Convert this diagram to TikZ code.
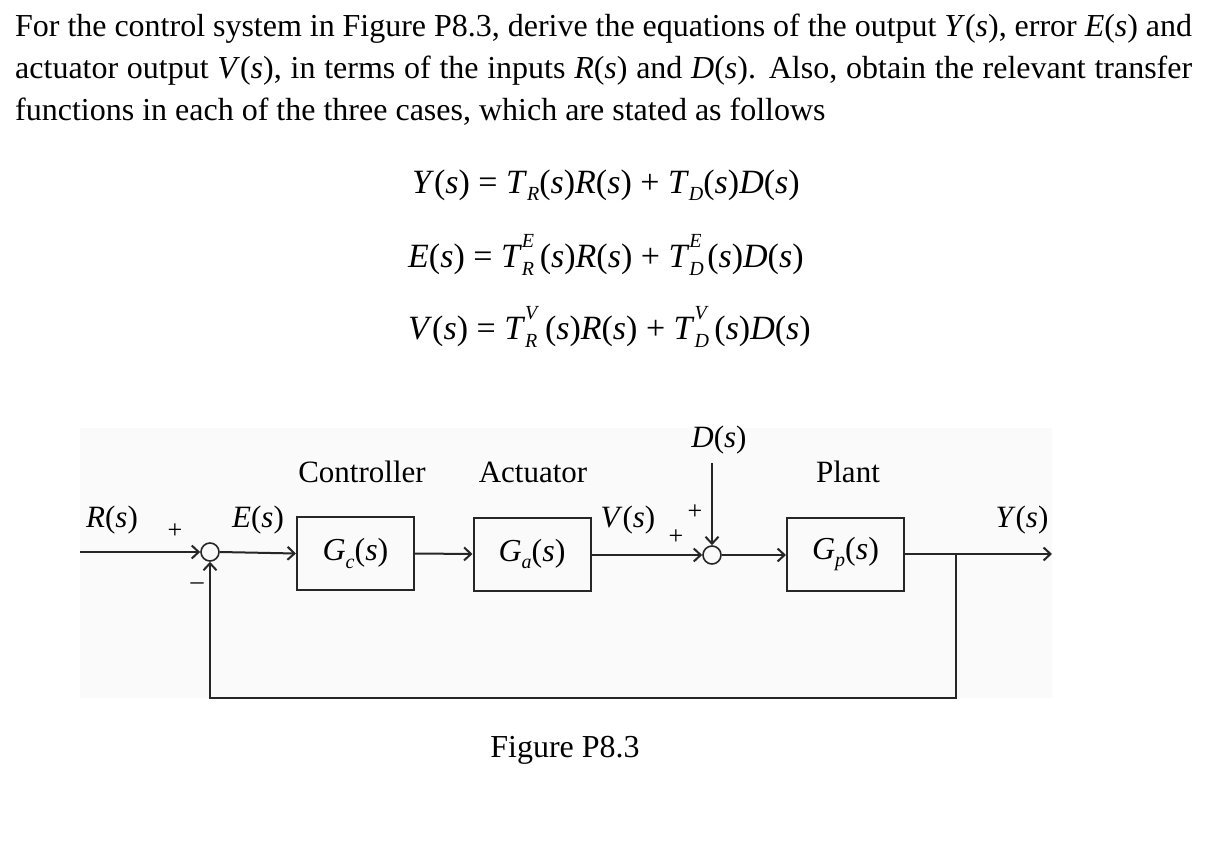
\documentclass[tikz,border=0pt]{standalone}
\usepackage{fontspec}
\setmainfont{Liberation Serif}
\usetikzlibrary{arrows.meta}
\newcommand{\sm}[1]{{\fontsize{20}{20}\selectfont\textit{#1}}}
\newcommand{\lo}[1]{\raisebox{-0.22em}{\sm{#1}}}
\newcommand{\TT}[2]{\textit{T}\rlap{\lo{#1}}\raisebox{0.6em}{\sm{#2}}\,}
\newcommand{\fn}[1]{\textit{#1}(\textit{s})}
\tikzset{
  blk/.style={draw=black!85,line width=2pt,minimum width=117pt,minimum height=73pt,inner sep=0pt,font=\fontsize{32}{34}\selectfont},
  sumj/.style={draw=black!85,line width=1.6pt,circle,minimum size=18pt,inner sep=0pt},
  sig/.style={draw=black!85,line width=2pt},
  arr/.style={sig,-{Straight Barb[length=7pt,width=13pt,line width=2pt]}},
  lbl/.style={font=\fontsize{31}{33}\selectfont,inner sep=0pt},
  pm/.style={font=\fontsize{26}{28}\selectfont,inner sep=0pt},
  eqn/.style={anchor=west,inner sep=0pt,font=\fontsize{34}{37}\selectfont}
}
\begin{document}
\begin{tikzpicture}[x=1pt,y=-1pt]
\useasboundingbox (0,0) rectangle (1227,842);
\fill[black!2] (80,428) rectangle (1052,698);
\node[anchor=north west,inner sep=0pt,text width=1177pt,align=justify,font=\fontsize{32}{42}\selectfont] (txt) at (15,14)
{For the control system in Figure P8.3, derive the equations of the output \textit{Y}(\textit{s}), error \textit{E}(\textit{s}) and actuator output \textit{V}(\textit{s}), in terms of the inputs \textit{R}(\textit{s}) and \textit{D}(\textit{s}). Also, obtain the relevant transfer functions in each of the three cases, which are stated as follows};
\node[eqn] (e1) at (412,185) {\fn{Y} = \textit{T}\lo{R}(\textit{s})\fn{R} + \textit{T}\lo{D}(\textit{s})\fn{D}};
\node[eqn] (e2) at (408,255) {\fn{E} = \TT{R}{E}(\textit{s})\fn{R} + \TT{D}{E}(\textit{s})\fn{D}};
\node[eqn] (e3) at (408,327) {\fn{V} = \TT{R}{V}(\textit{s})\fn{R} + \TT{D}{V}(\textit{s})\fn{D}};

\coordinate (rin) at (80,552);
\node[sumj] (s1) at (210,552) {};
\node[blk] (gc) at (355.5,553.5) {\textit{G}\lo{c}(\textit{s})};
\node[blk] (ga) at (532,554) {\textit{G}\lo{a}(\textit{s})};
\node[sumj] (s2) at (712,555) {};
\node[blk] (gp) at (845.5,554) {\textit{G}\lo{p}(\textit{s})};
\coordinate (yout) at (1052,554);
\coordinate (br) at (956,554);
\coordinate (dtop) at (712,463);

\draw[arr] (rin) -- (s1.west);
\draw[arr] (s1.east) -- (gc.west);
\draw[arr] (gc.east) -- (ga.west);
\draw[arr] (ga.east|-s2) -- (s2.west);
\draw[arr] (s2.east) -- (gp.west|-s2);
\draw[arr] (gp.east|-yout) -- (yout);
\draw[arr] (dtop) -- (s2.north);
\draw[arr] (br) |- (210,698) -- (s1.south);

\node[lbl] (r) at (112,520) {\fn{R}};
\node[lbl] (e) at (258,520) {\fn{E}};
\node[lbl] (v) at (628,520) {\fn{V}};
\node[lbl] (d) at (719,440) {\fn{D}};
\node[lbl] (y) at (1022,520) {\fn{Y}};
\node[lbl] (c) at (362,472) {Controller};
\node[lbl] (a) at (533,472) {Actuator};
\node[lbl] (p) at (848,472) {Plant};
\node[pm] (p1) at (175,531) {+};
\node[pm] (m1) at (197,586) {–};
\node[pm] (p2) at (676,537) {+};
\node[pm] (p3) at (695,512) {+};
\node[font=\fontsize{32}{34}\selectfont,inner sep=0pt] (fig) at (565,750) {Figure P8.3};
\end{tikzpicture}
\end{document}
